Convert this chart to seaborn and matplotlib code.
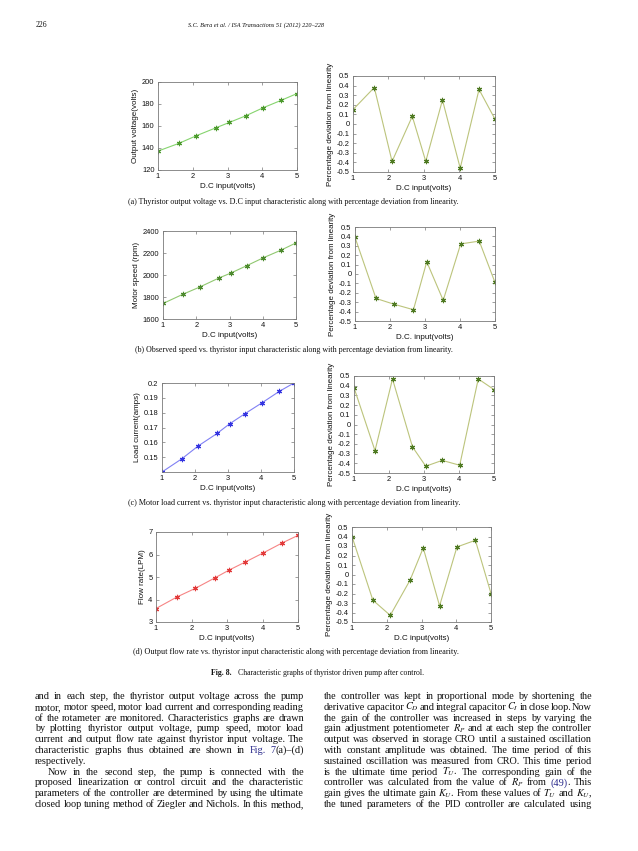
import matplotlib
matplotlib.use("Agg")
import matplotlib.pyplot as plt
import seaborn as sns

W, H = 638, 851

# common x values (D.C input, volts)
dc_input = [1.0, 1.6, 2.1, 2.67, 3.05, 3.52, 4.02, 4.55, 5.0]

output_voltage = [137.2, 144.2, 151.1, 158.4, 163.2, 169.2, 176.5, 183.4, 189.5]
dev_voltage = [0.15, 0.38, -0.39, 0.08, -0.39, 0.25, -0.46, 0.36, 0.05]

motor_speed = [1741, 1825, 1890, 1971, 2019, 2085, 2157, 2226, 2292]
dev_speed = [0.39, -0.26, -0.32, -0.38, 0.13, -0.28, 0.32, 0.35, -0.09]

load_current = [0.1400, 0.1489, 0.1576, 0.1660, 0.1725, 0.1794, 0.1865, 0.1943, 0.2000]
dev_current = [0.38, -0.27, 0.47, -0.23, -0.43, -0.37, -0.42, 0.47, 0.36]

flow_rate = [3.60, 4.12, 4.49, 4.97, 5.30, 5.67, 6.07, 6.51, 6.85]
dev_flow = [0.40, -0.27, -0.43, -0.06, 0.28, -0.33, 0.29, 0.36, -0.20]

x_ticks = [1, 2, 3, 4, 5]
dev_ticks = [0.5, 0.4, 0.3, 0.2, 0.1, 0.0, -0.1, -0.2, -0.3, -0.4, -0.5]
dev_labels = ["0.5", "0.4", "0.3", "0.2", "0.1", "0", "-0.1", "-0.2", "-0.3", "-0.4", "-0.5"]

captions = [
    "(a) Thyristor output voltage vs. D.C input characteristic along with percentage deviation from linearity.",
    "(b) Observed speed vs. thyristor input characteristic along with percentage deviation from linearity.",
    "(c) Motor load current vs. thyristor input characteristic along with percentage deviation from linearity.",
    "(d) Output flow rate vs. thyristor input characteristic along with percentage deviation from linearity.",
]
caption_spans = [(128, 462), (135, 453), (128, 463), (133, 460)]

left_col = [
    "and in each step, the thyristor output voltage across the pump",
    "motor, motor speed, motor load current and corresponding reading",
    "of the rotameter are monitored. Characteristics graphs are drawn",
    "by plotting thyristor output voltage, pump speed, motor load",
    "current and output flow rate against thyristor input voltage. The",
    "characteristic graphs thus obtained are shown in #Fig. #7|(a)–(d)",
    "respectively.",
    "Now in the second step, the pump is connected with the",
    "proposed linearization or control circuit and the characteristic",
    "parameters of the controller are determined by using the ultimate",
    "closed loop tuning method of Ziegler and Nichols. In this method,",
]
right_col = [
    "the controller was kept in proportional mode by shortening the",
    "derivative capacitor $C_D$ and integral capacitor $C_I$ in close loop. Now",
    "the gain of the controller was increased in steps by varying the",
    "gain adjustment potentiometer $R_P$ and at each step the controller",
    "output was observed in storage CRO until a sustained oscillation",
    "with constant amplitude was obtained. The time period of this",
    "sustained oscillation was measured from CRO. This time period",
    "is the ultimate time period $T_U$. The corresponding gain of the",
    "controller was calculated from the value of $R_P$ from #(49)|. This",
    "gain gives the ultimate gain $K_U$. From these values of $T_U$ and $K_U$,",
    "the tuned parameters of the PID controller are calculated using",
]

sns.set_theme(style="ticks")
plt.rcParams["font.family"] = ["Liberation Sans", "DejaVu Sans"]
plt.rcParams["axes.unicode_minus"] = False
plt.rcParams["mathtext.fontset"] = "stix"

SERIF = ["Liberation Serif", "DejaVu Serif"]
INK = "#111111"
LINK = "#2b2b8c"
ASTERISK = (6, 2, 0)


def px_axes(fig, x0, y0, x1, y1):
    return fig.add_axes([x0 / W, 1 - y1 / H, (x1 - x0) / W, (y1 - y0) / H])


def matlab_style(ax):
    ax.tick_params(direction="in", length=2, width=0.5, top=True, right=True,
                   labelsize=5.4, pad=2.5, color="#777777", labelcolor=INK)
    for s in ax.spines.values():
        s.set_linewidth(0.6)
        s.set_color("#7a7a7a")
    ax.grid(False)


def fit_text(fig, r, x0, x1, y, text, **kw):
    t = fig.text(x0 / W, 1 - y / H, text, va="center", ha="left", **kw)
    w = t.get_window_extent(r).width
    t.set_fontsize(t.get_fontsize() * (x1 - x0) / w)
    return t


def parse_line(line):
    words = []
    for w in line.split(" "):
        segs = []
        for part in w.split("|"):
            if part.startswith("#"):
                segs.append((part[1:], LINK))
            else:
                segs.append((part, INK))
        words.append(segs)
    return words


def word_widths(fig, r, line, size):
    widths = []
    for segs in parse_line(line):
        tot = 0.0
        for txt, col in segs:
            t = fig.text(0, 0, txt, fontsize=size, family=SERIF)
            tot += t.get_window_extent(r).width
            t.remove()
        widths.append(tot)
    return widths


def draw_line(fig, r, line, x0, x1, y, size, justify=True):
    items, widths = [], []
    for segs in parse_line(line):
        row, tot = [], 0.0
        for txt, col in segs:
            t = fig.text(0, 1 - y / H, txt, fontsize=size, color=col,
                         family=SERIF, va="baseline", ha="left")
            w = t.get_window_extent(r).width
            row.append((t, w))
            tot += w
        items.append(row)
        widths.append(tot)
    if justify and len(items) > 1:
        gap = (x1 - x0 - sum(widths)) / (len(items) - 1)
    else:
        gap = size * 100 / 72 * 0.25
    x = x0
    for row, tot in zip(items, widths):
        for t, w in row:
            t.set_x(x / W)
            x += w
        x += gap


fig = plt.figure(figsize=(W / 100, H / 100), dpi=100)
fig.patch.set_facecolor("white")
r = fig.canvas.get_renderer()

panels = [
    dict(y=output_voltage, dev=dev_voltage, ylabel="Output voltage(volts)",
         ylim=(120, 200), yticks=[120, 140, 160, 180, 200],
         line="#86d46e", mark="#4d9a2e", rxlabel="D.C input(volts)",
         lbox=(158, 82, 297, 170), rbox=(353, 76, 495, 172), cap_y=202),
    dict(y=motor_speed, dev=dev_speed, ylabel="Motor speed (rpm)",
         ylim=(1600, 2400), yticks=[1600, 1800, 2000, 2200, 2400],
         line="#90c870", mark="#4d8a2e", rxlabel="D.C. input(volts)",
         lbox=(163, 231, 296, 319), rbox=(355, 227, 495, 321), cap_y=350),
    dict(y=load_current, dev=dev_current, ylabel="Load current(amps)",
         ylim=(0.14, 0.2), yticks=[0.15, 0.16, 0.17, 0.18, 0.19, 0.2],
         line="#8080f4", mark="#3434e0", rxlabel="D.C input(volts)",
         lbox=(162, 383, 294, 472), rbox=(354, 376, 494, 473), cap_y=503),
    dict(y=flow_rate, dev=dev_flow, ylabel="Flow rate(LPM)",
         ylim=(3, 7), yticks=[3, 4, 5, 6, 7],
         line="#f68484", mark="#e23a3a", rxlabel="D.C input(volts)",
         lbox=(156, 532, 298, 622), rbox=(352, 527, 491, 622), cap_y=652),
]

for p, cap, span in zip(panels, captions, caption_spans):
    ax = px_axes(fig, *p["lbox"])
    sns.lineplot(x=dc_input, y=p["y"], ax=ax, color=p["line"], linewidth=0.8,
                 marker=ASTERISK, markersize=3.8, markeredgewidth=0.8,
                 markeredgecolor=p["mark"], markerfacecolor=p["mark"])
    ax.set_xlim(1, 5)
    ax.set_ylim(*p["ylim"])
    ax.set_xticks(x_ticks)
    ax.set_yticks(p["yticks"])
    ax.set_yticklabels([f"{v:g}" for v in p["yticks"]])
    ax.set_xlabel("D.C input(volts)", fontsize=5.8, color=INK, labelpad=2)
    ax.set_ylabel(p["ylabel"], fontsize=5.8, color=INK, labelpad=2)
    matlab_style(ax)

    axr = px_axes(fig, *p["rbox"])
    sns.lineplot(x=dc_input, y=p["dev"], ax=axr, color="#bcc47c", linewidth=0.8,
                 marker=ASTERISK, markersize=3.8, markeredgewidth=0.8,
                 markeredgecolor="#4f7a22", markerfacecolor="#4f7a22")
    axr.set_xlim(1, 5)
    axr.set_ylim(-0.5, 0.5)
    axr.set_xticks(x_ticks)
    axr.set_yticks(dev_ticks)
    axr.set_yticklabels(dev_labels)
    axr.set_xlabel(p["rxlabel"], fontsize=5.8, color=INK, labelpad=2)
    axr.set_ylabel("Percentage deviation from linearity", fontsize=5.8, color=INK, labelpad=1.5)
    matlab_style(axr)

    fit_text(fig, r, span[0], span[1], p["cap_y"], cap, fontsize=5.3, family=SERIF, color=INK)

# figure title line
ft = fit_text(fig, r, 238, 425, 673, "Characteristic graphs of thyristor driven pump after control.",
              fontsize=5.3, family=SERIF, color=INK)
fig.text(232 / W, 1 - 673 / H, "Fig. 8.", fontsize=ft.get_fontsize(), family=SERIF,
         color=INK, fontweight="bold", va="center", ha="right")

# running header
fig.text(36 / W, 1 - 25 / H, "226", fontsize=5.5, family=SERIF, color=INK, va="center")
fit_text(fig, r, 188, 325, 25, "S.C. Bera et al. / ISA Transactions 51 (2012) 220–228",
         fontsize=5.3, family=SERIF, style="italic", color=INK)

# body text, two justified columns; size chosen so the tightest line still fits
base = 8.4
scale = 1.0
for lines, width in ((left_col, 269), (right_col, 268)):
    for i, line in enumerate(lines):
        if lines is left_col and i == 6:
            continue
        ws = word_widths(fig, r, line, base)
        natural = sum(ws) + (len(ws) - 1) * base * 100 / 72 * 0.11
        avail = width - (13 if (lines is left_col and i == 7) else 0)
        scale = min(scale, avail / natural)
body_size = base * scale

line_h = 10.8
for i, line in enumerate(left_col):
    y = 699 + i * line_h
    if i == 6:
        draw_line(fig, r, line, 35, 304, y, body_size, justify=False)
    elif i == 7:
        draw_line(fig, r, line, 48, 304, y, body_size)
    else:
        draw_line(fig, r, line, 35, 304, y, body_size)
for i, line in enumerate(right_col):
    draw_line(fig, r, line, 324, 592, 699 + i * line_h, body_size)

fig.savefig("out.png", dpi=100, facecolor="white")
